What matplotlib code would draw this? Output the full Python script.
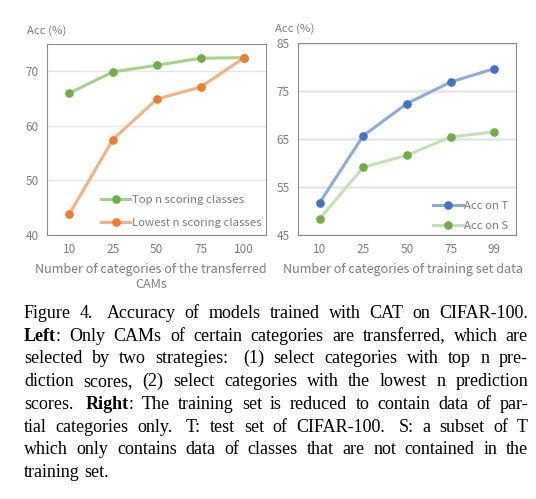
import re
import matplotlib
matplotlib.use("Agg")
import matplotlib.pyplot as plt

# Left panel: CAMs of selected categories transferred
left_cats = ["10", "25", "50", "75", "100"]
top_n = [66.0, 69.9, 71.1, 72.4, 72.5]
lowest_n = [43.8, 57.5, 64.9, 67.1, 72.5]

# Right panel: training set reduced to partial categories
right_cats = ["10", "25", "50", "75", "99"]
acc_t = [51.7, 65.7, 72.4, 76.9, 79.7]
acc_s = [48.3, 59.1, 61.6, 65.4, 66.5]

caption_lines = [
    "Figure 4.  Accuracy of models trained with CAT on CIFAR-100.",
    "*Left*: Only CAMs of certain categories are transferred, which are",
    "selected by two strategies:  (1) select categories with top n pre-",
    "diction scores, (2) select categories with the lowest n prediction",
    "scores.  *Right*: The training set is reduced to contain data of par-",
    "tial categories only.  T: test set of CIFAR-100.  S: a subset of T",
    "which only contains data of classes that are not contained in the",
    "training set.",
]

W, H = 536, 499
plt.rcParams["font.family"] = ["Noto Sans CJK SC", "DejaVu Sans"]
fig = plt.figure(figsize=(W / 100, H / 100), dpi=100)

tick_col = "#7f7f7f"
spine_col = "#8c8c8c"
grid_col = "#e6e6e6"


def px_box(x0, y0, x1, y1):
    return [x0 / W, 1 - y1 / H, (x1 - x0) / W, (y1 - y0) / H]


def style_axes(ax, cats, ylim, yticks):
    ax.set_xlim(-0.5, len(cats) - 0.5)
    ax.set_ylim(*ylim)
    ax.set_xticks(range(len(cats)))
    ax.set_xticklabels(cats)
    ax.set_yticks(yticks)
    ax.tick_params(length=0, colors=tick_col, labelsize=8.5, pad=6)
    for s in ax.spines.values():
        s.set_color(spine_col)
        s.set_linewidth(0.8)
    ax.yaxis.grid(True, color=grid_col, linewidth=1.0)
    ax.set_axisbelow(True)


# left chart
ax1 = fig.add_axes(px_box(47.3, 44, 266.2, 235))
x1 = range(len(left_cats))
ax1.plot(x1, top_n, color="#a9d18e", lw=2.2, marker="o", ms=5.2,
         mfc="#70ad47", mec="#70ad47", label="Top n scoring classes")
ax1.plot(x1, lowest_n, color="#f4b183", lw=2.2, marker="o", ms=5.2,
         mfc="#ed7d31", mec="#ed7d31", label="Lowest n scoring classes")
style_axes(ax1, left_cats, (40, 75), [40, 50, 60, 70])
ax1.set_xlabel("Number of categories of the transferred\nCAMs", color=tick_col,
               fontsize=9.1, labelpad=5, linespacing=1.2)
ax1.xaxis.label.set_x(0.474)
ax1.legend(loc="lower right", frameon=False, fontsize=8.2,
           labelcolor=tick_col, handlelength=2.6, handletextpad=0.1,
           labelspacing=1.1, borderaxespad=0.05, bbox_to_anchor=(1, 0.01))
fig.text(27 / W, 1 - 31 / H, "Acc (%)", color=tick_col, fontsize=8.2, va="center")

# right chart
ax2 = fig.add_axes(px_box(297.8, 43.3, 516, 234.7))
x2 = range(len(right_cats))
ax2.plot(x2, acc_t, color="#8faadc", lw=2.2, marker="o", ms=5.2,
         mfc="#4472c4", mec="#4472c4", label="Acc on T")
ax2.plot(x2, acc_s, color="#c5e0b4", lw=2.2, marker="o", ms=5.2,
         mfc="#70ad47", mec="#70ad47", label="Acc on S")
style_axes(ax2, right_cats, (45, 85), [45, 55, 65, 75, 85])
ax2.yaxis.grid(True, color=grid_col, linewidth=1.8)
ax2.set_xlabel("Number of categories of training set data", color=tick_col,
               fontsize=9.1, labelpad=5)
ax2.xaxis.label.set_x(0.482)
ax2.legend(loc="lower right", frameon=False, fontsize=8.2,
           labelcolor=tick_col, handlelength=2.6, handletextpad=0.1,
           labelspacing=0.85, borderaxespad=0.3, bbox_to_anchor=(1, -0.022))
fig.text(275 / W, 1 - 29 / H, "Acc (%)", color=tick_col, fontsize=8.2, va="center")

# caption, justified by hand
renderer = fig.canvas.get_renderer()
cap_font = dict(family="Liberation Serif", fontsize=13.0, color="black")
left_px, right_px = 24, 528
base0, step = 318, 22.7


def word_parts(word):
    # *...* marks bold
    if word.startswith("*"):
        end = word.index("*", 1)
        return [(word[1:end], "bold"), (word[end + 1:], "normal")]
    return [(word, "normal")]


sp = fig.text(0, 0, "a a", **cap_font)
sa = fig.text(0, 0, "aa", **cap_font)
space_px = sp.get_window_extent(renderer).width - sa.get_window_extent(renderer).width
sp.remove()
sa.remove()

for i, line in enumerate(caption_lines):
    tokens = re.split(r"( +)", line)
    words = tokens[0::2]
    # a double space (end of sentence) stretches a bit more
    weights = [1.0 if len(s) == 1 else 1.5 for s in tokens[1::2]]
    y = 1 - (base0 + i * step) / H
    items = []
    total = 0
    for w in words:
        parts = []
        for txt, wt in word_parts(w):
            if not txt:
                continue
            t = fig.text(0, y, txt, fontweight=wt, va="baseline", **cap_font)
            wpx = t.get_window_extent(renderer).width
            parts.append((t, wpx))
            total += wpx
        items.append(parts)
    if i < len(caption_lines) - 1:
        unit = (right_px - left_px - total) / sum(weights)
    else:
        unit = space_px
    x = left_px
    for k, parts in enumerate(items):
        for t, wpx in parts:
            t.set_x(x / W)
            x += wpx
        if k < len(weights):
            x += unit * weights[k]

fig.savefig("out.png", dpi=100)
